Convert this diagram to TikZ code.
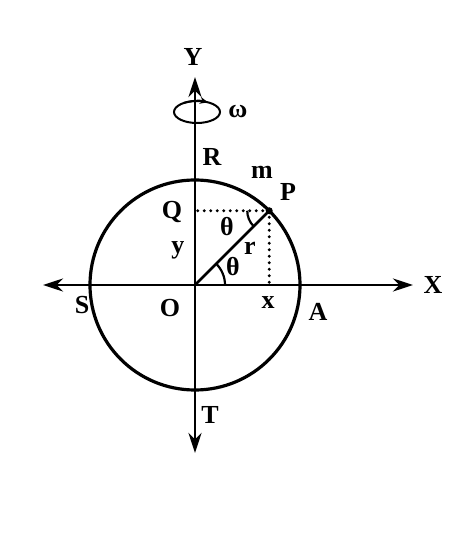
\documentclass[tikz,border=0pt]{standalone}
\usepackage{amsmath}
\usepackage{fontspec}
\setmainfont{Liberation Serif}
\usetikzlibrary{arrows.meta}
\usetikzlibrary{calc}

\begin{document}
\begin{tikzpicture}[x=1pt,y=1pt,
			every node/.style={font=\fontsize{26}{28}\selectfont\bfseries,inner sep=1pt},
			axis/.style={line width=2.8pt,-{Stealth[length=20pt,width=13pt]}},
			dotline/.style={line width=3.2pt,dash pattern=on 0pt off 6.5pt,line cap=round}]
			\useasboundingbox (-195,-252) rectangle (270,285);
			
			\coordinate (O) at (0,0);
			\coordinate (P) at (45:105);
			\coordinate (Q) at (O |- P);
			\coordinate (Px) at (P |- O);
			\coordinate (top) at (0,208);
			\coordinate (bot) at (0,-168);
			\coordinate (lft) at (-152,0);
			\coordinate (rgt) at (218,0);
			
			% rotation loop
			\draw[line width=2pt] (2,173) ellipse (23 and 11);
			\draw[line width=2pt,-{Stealth[length=8pt,width=7pt]}] (2,173) ++(125:23 and 11) arc (125:62:23 and 11);
			
			% axes
			\draw[axis] (O) -- (top);
			\draw[axis] (O) -- (bot);
			\draw[axis] (O) -- (lft);
			\draw[axis] (O) -- (rgt);
			
			\draw[line width=3.2pt] (O) circle (105);
			
			\draw[line width=2.6pt] (O) -- (P);
			\draw[dotline] (P) -- (Q);
			\draw[dotline] (P) -- (Px);
			\fill (P) circle (3.5);
			
			% angles
			\draw[line width=2.2pt] ($(O)+(30,0)$) arc (0:45:30);
			\draw[line width=2.2pt] ($(P)+(180:22)$) arc (180:225:22);
			
			\node (Ylab) at (-2,228) {Y};
			\node (Xlab) at (238,0) {X};
			\node (wlab) at (43,173) {ω};
			\node (Rlab) at (17,128) {R};
			\node (mlab) at (67,113) {m};
			\node (Plab) at (93,93) {P};
			\node (Qlab) at (-23,73) {Q};
			\node (ylab) at (-17,35) {y};
			\node (t1lab) at (32,58) {θ};
			\node (rlab) at (55,37) {r};
			\node (t2lab) at (38,18) {θ};
			\node (xlab) at (73,-18) {x};
			\node (Olab) at (-25,-23) {O};
			\node (Slab) at (-113,-20) {S};
			\node (Alab) at (123,-27) {A};
			\node (Tlab) at (15,-130) {T};
		\end{tikzpicture}
\end{document}
